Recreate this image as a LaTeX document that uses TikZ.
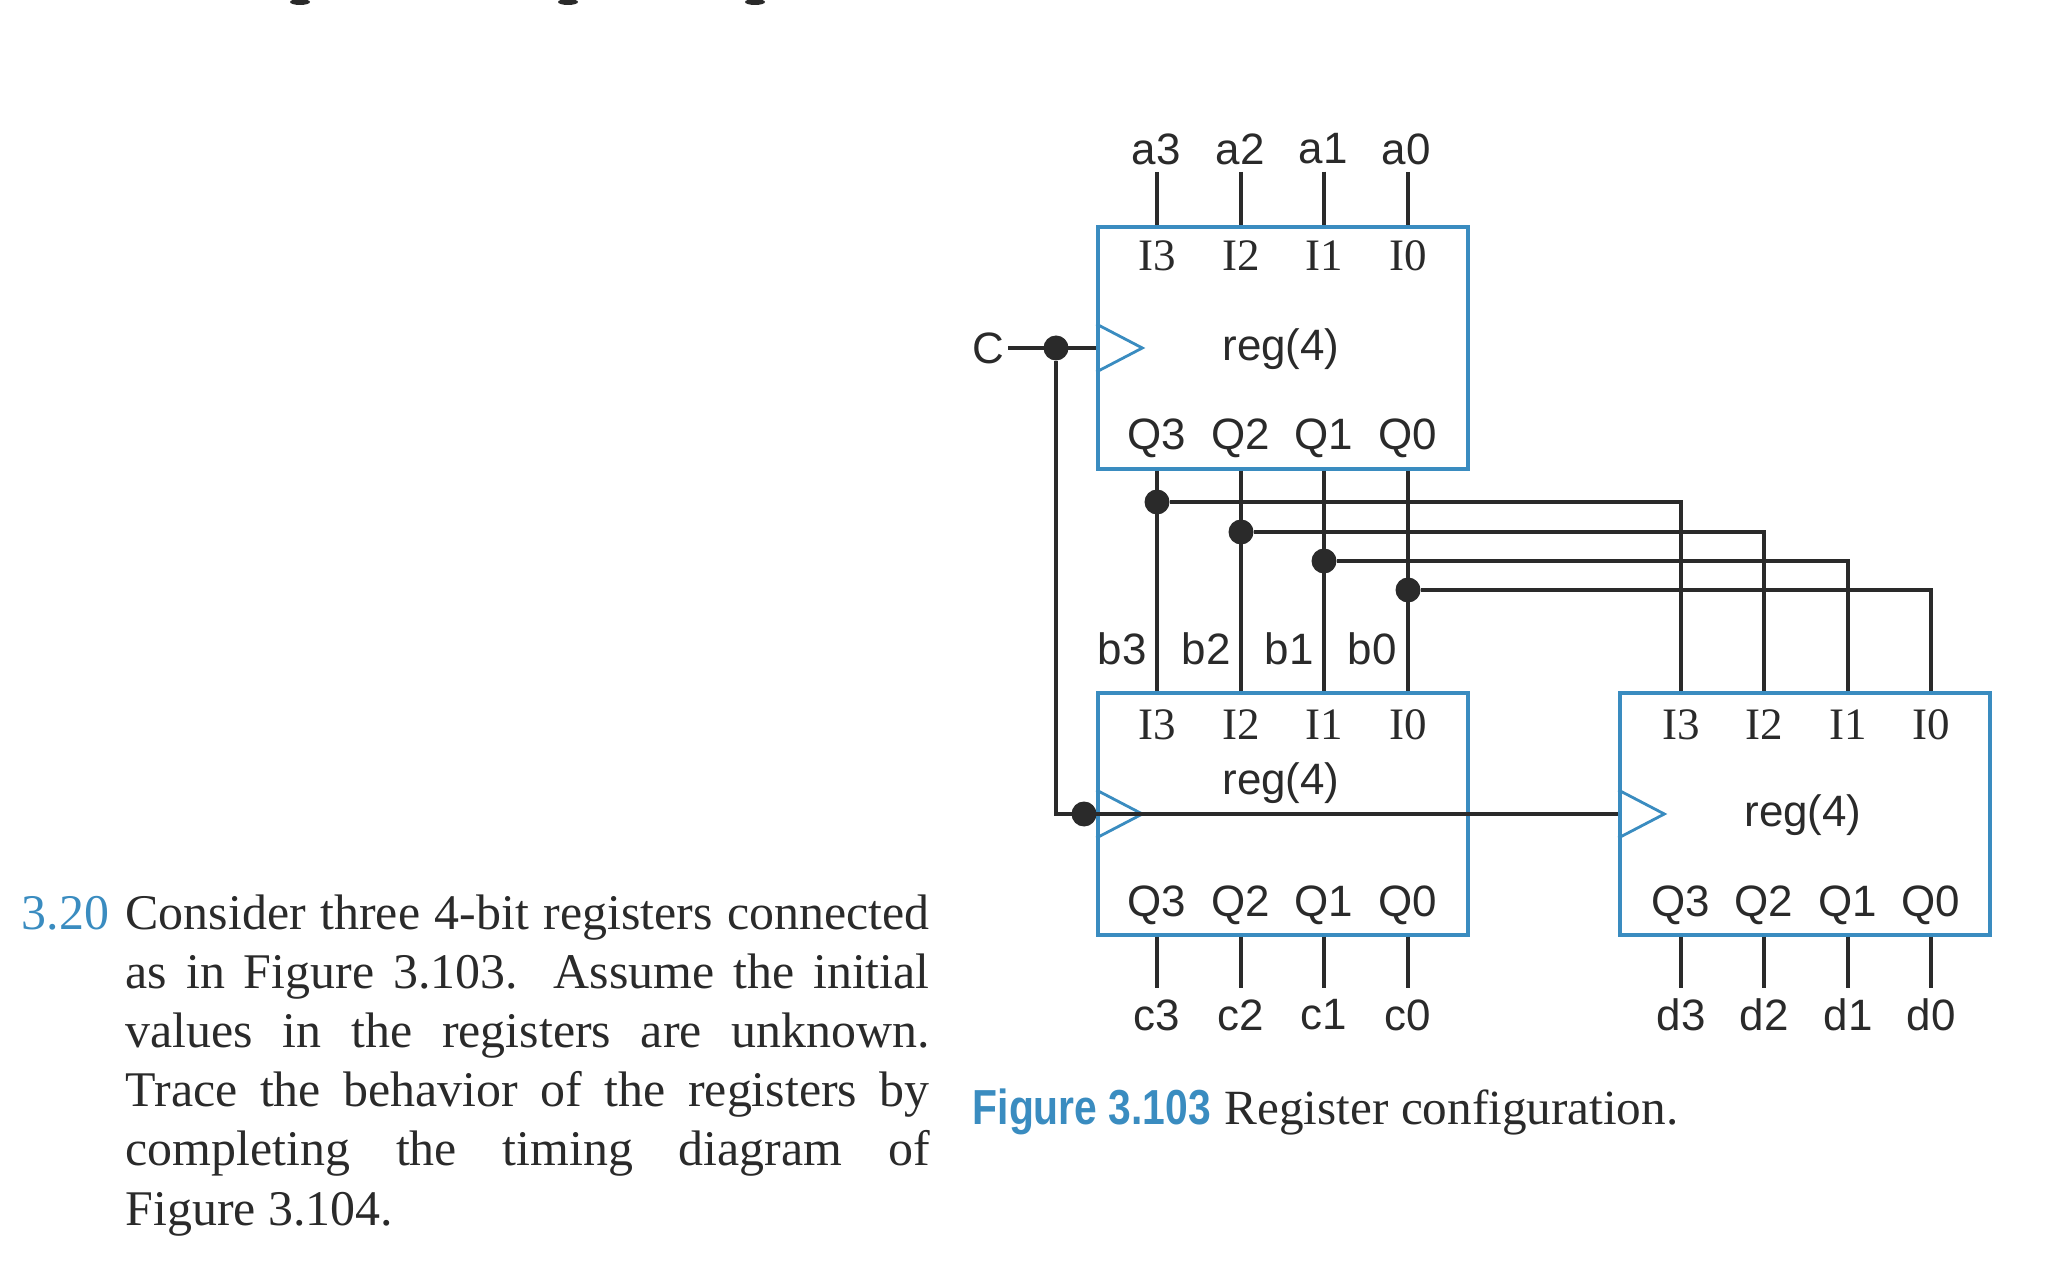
\documentclass[tikz,border=0pt]{standalone}
\usepackage{fontspec}
\setmainfont{Liberation Serif}
\setsansfont{Liberation Sans}
\newfontfamily\capfont[FakeStretch=0.83]{Liberation Sans}
\usepackage{tikz}
\usetikzlibrary{calc}
\definecolor{BookBlue}{HTML}{3A8CC0}
\definecolor{WireBlack}{HTML}{2A2A2A}
\tikzset{
  regbox/.style={rectangle, draw=BookBlue, line width=0.95pt, minimum width=3.70cm, minimum height=2.42cm, inner sep=0pt},
  clkline/.style={draw=BookBlue, line width=0.8pt},
  wire/.style={draw=WireBlack, line width=1.1pt},
  junction/.style={circle, fill=WireBlack, minimum size=0.25cm, inner sep=0pt},
  siglabel/.style={font=\sffamily\fontsize{12.5}{15}\selectfont, text=WireBlack, inner sep=1pt},
  pinlabel/.style={font=\rmfamily\fontsize{12.8}{15}\selectfont, text=WireBlack, inner sep=1pt},
  bodytext/.style={font=\rmfamily\fontsize{14.2}{16.85}\selectfont, text=WireBlack, inner sep=0pt}
}
\begin{document}
\begin{tikzpicture}
  \useasboundingbox (0,0) rectangle (20.46,-12.85);

  % Cut-off line at the top edge
  \fill[WireBlack] (3.00,-0.02) ellipse (0.10 and 0.03);
  \fill[WireBlack] (5.68,-0.02) ellipse (0.10 and 0.03);
  \fill[WireBlack] (7.55,-0.02) ellipse (0.10 and 0.03);

  % Registers
  \node[regbox] (regA) at (12.83,-3.48) {};
  \node[regbox] (regB) at (12.83,-8.14) {};
  \node[regbox] (regD) at (18.05,-8.14) {};

  \node[siglabel] (lblA) at (12.81,-3.49) {reg(4)};
  \node[siglabel] (lblB) at (12.81,-7.83) {reg(4)};
  \node[siglabel] (lblD) at (18.03,-8.15) {reg(4)};

  \draw[clkline] ([yshift=0.24cm]regA.west) -- ([xshift=0.46cm]regA.west) -- ([yshift=-0.24cm]regA.west);
  \draw[clkline] ([yshift=0.24cm]regB.west) -- ([xshift=0.46cm]regB.west) -- ([yshift=-0.24cm]regB.west);
  \draw[clkline] ([yshift=0.24cm]regD.west) -- ([xshift=0.46cm]regD.west) -- ([yshift=-0.24cm]regD.west);

  % Top register
  \node[siglabel] (a3) at (11.56,-1.49) {a3};
  \node[siglabel] (a2) at (12.40,-1.49) {a2};
  \node[siglabel] (a1) at (13.23,-1.49) {a1};
  \node[siglabel] (a0) at (14.06,-1.49) {a0};

  \node[pinlabel] (ia3) at (11.57,-2.56) {I3};
  \node[pinlabel] (ia2) at (12.41,-2.56) {I2};
  \node[pinlabel] (ia1) at (13.24,-2.56) {I1};
  \node[pinlabel] (ia0) at (14.08,-2.56) {I0};

  \node[siglabel] (qa3) at (11.57,-4.38) {Q3};
  \node[siglabel] (qa2) at (12.41,-4.38) {Q2};
  \node[siglabel] (qa1) at (13.24,-4.38) {Q1};
  \node[siglabel] (qa0) at (14.08,-4.38) {Q0};

  % Lower left register
  \node[siglabel] (b3) at (11.22,-6.49) {b3};
  \node[siglabel] (b2) at (12.06,-6.49) {b2};
  \node[siglabel] (b1) at (12.89,-6.49) {b1};
  \node[siglabel] (b0) at (13.72,-6.49) {b0};

  \node[pinlabel] (ib3) at (11.57,-7.25) {I3};
  \node[pinlabel] (ib2) at (12.41,-7.25) {I2};
  \node[pinlabel] (ib1) at (13.24,-7.25) {I1};
  \node[pinlabel] (ib0) at (14.08,-7.25) {I0};

  \node[siglabel] (qb3) at (11.57,-9.05) {Q3};
  \node[siglabel] (qb2) at (12.41,-9.05) {Q2};
  \node[siglabel] (qb1) at (13.24,-9.05) {Q1};
  \node[siglabel] (qb0) at (14.08,-9.05) {Q0};

  \node[siglabel] (c3) at (11.57,-10.15) {c3};
  \node[siglabel] (c2) at (12.41,-10.15) {c2};
  \node[siglabel] (c1) at (13.24,-10.15) {c1};
  \node[siglabel] (c0) at (14.08,-10.15) {c0};

  % Lower right register
  \node[pinlabel] (id3) at (16.81,-7.25) {I3};
  \node[pinlabel] (id2) at (17.64,-7.25) {I2};
  \node[pinlabel] (id1) at (18.48,-7.25) {I1};
  \node[pinlabel] (id0) at (19.31,-7.25) {I0};

  \node[siglabel] (qd3) at (16.81,-9.05) {Q3};
  \node[siglabel] (qd2) at (17.64,-9.05) {Q2};
  \node[siglabel] (qd1) at (18.48,-9.05) {Q1};
  \node[siglabel] (qd0) at (19.31,-9.05) {Q0};

  \node[siglabel] (d3) at (16.81,-10.15) {d3};
  \node[siglabel] (d2) at (17.64,-10.15) {d2};
  \node[siglabel] (d1) at (18.48,-10.15) {d1};
  \node[siglabel] (d0) at (19.31,-10.15) {d0};

  % Inputs
  \draw[wire] (a3.south -| ia3) ++(0,-0.03) -- (ia3 |- regA.north);
  \draw[wire] (a2.south -| ia2) ++(0,-0.03) -- (ia2 |- regA.north);
  \draw[wire] (a1.south -| ia1) ++(0,-0.03) -- (ia1 |- regA.north);
  \draw[wire] (a0.south -| ia0) ++(0,-0.03) -- (ia0 |- regA.north);

  % Shared bus
  \node[junction] (j3) at (11.57,-5.02) {};
  \node[junction] (j2) at (12.41,-5.32) {};
  \node[junction] (j1) at (13.24,-5.61) {};
  \node[junction] (j0) at (14.08,-5.90) {};

  \draw[wire] (qa3 |- regA.south) -- (ib3 |- regB.north);
  \draw[wire] (qa2 |- regA.south) -- (ib2 |- regB.north);
  \draw[wire] (qa1 |- regA.south) -- (ib1 |- regB.north);
  \draw[wire] (qa0 |- regA.south) -- (ib0 |- regB.north);

  \draw[wire] (j3) -| (id3 |- regD.north);
  \draw[wire] (j2) -| (id2 |- regD.north);
  \draw[wire] (j1) -| (id1 |- regD.north);
  \draw[wire] (j0) -| (id0 |- regD.north);

  % Outputs
  \draw[wire] (qb3 |- regB.south) -- ([yshift=0.07cm]c3.north);
  \draw[wire] (qb2 |- regB.south) -- ([yshift=0.07cm]c2.north);
  \draw[wire] (qb1 |- regB.south) -- ([yshift=0.07cm]c1.north);
  \draw[wire] (qb0 |- regB.south) -- ([yshift=0.07cm]c0.north);
  \draw[wire] (qd3 |- regD.south) -- ([yshift=0.07cm]d3.north);
  \draw[wire] (qd2 |- regD.south) -- ([yshift=0.07cm]d2.north);
  \draw[wire] (qd1 |- regD.south) -- ([yshift=0.07cm]d1.north);
  \draw[wire] (qd0 |- regD.south) -- ([yshift=0.07cm]d0.north);

  % Clock
  \node[siglabel] (clk) at (9.88,-3.48) {C};
  \node[junction] (jc) at (10.56,-3.48) {};
  \node[junction] (jb) at (10.84,-8.14) {};
  \draw[wire] (clk) -- (regA.west);
  \draw[wire] (jc) |- (regD.west);

  % Caption
  \node[font=\capfont\bfseries\fontsize{14}{16}\selectfont, text=BookBlue, inner sep=0pt, anchor=base west] (figno) at (9.72,-11.24) {Figure 3.103};
  \node[font=\rmfamily\fontsize{14}{16}\selectfont, text=WireBlack, inner sep=0pt, anchor=base west] (figcap) at (12.24,-11.24) {Register configuration.};

  % Exercise text
  \node[bodytext, text=BookBlue, anchor=base west] (exno) at (0.21,-9.29) {3.20};
  \node[bodytext, text width=8.04cm, align=justify, anchor=base west] (extext) at (1.25,-9.29) {Consider three 4-bit registers connected\linebreak as in Figure 3.103. Assume the initial\linebreak values in the registers are unknown.\linebreak Trace the behavior of the registers by\linebreak completing the timing diagram of\linebreak Figure 3.104.};
\end{tikzpicture}
\end{document}
